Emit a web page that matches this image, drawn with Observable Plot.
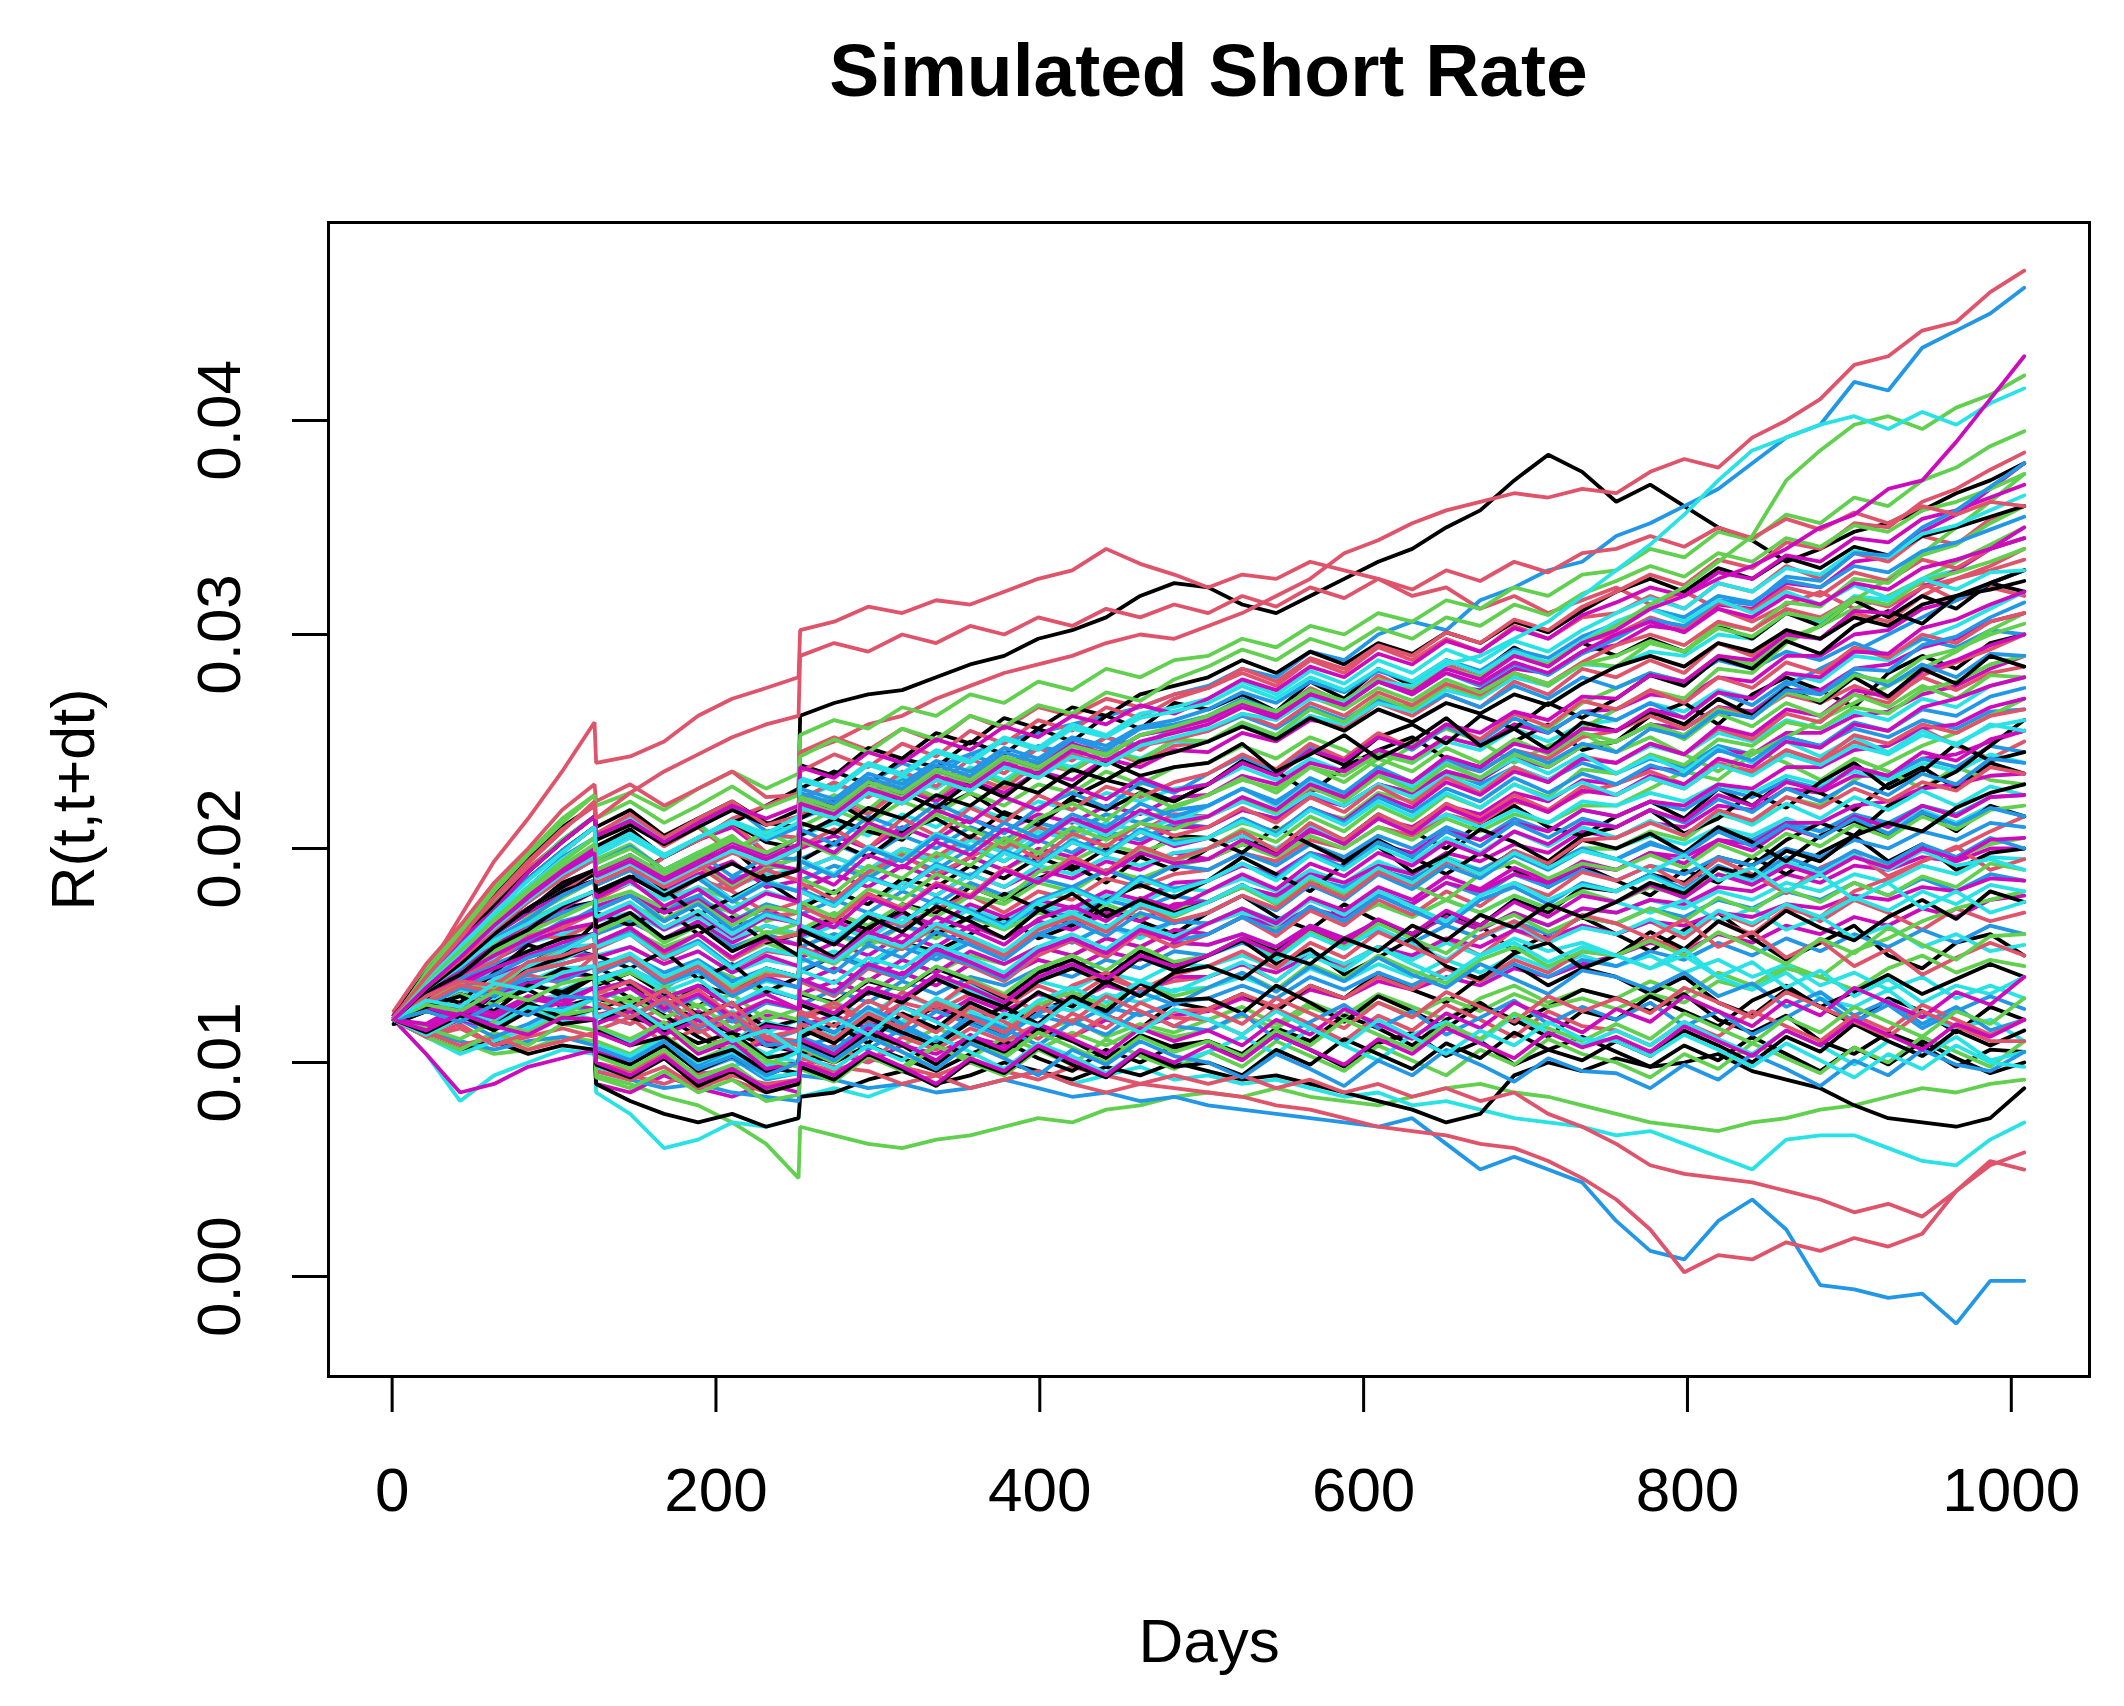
<!DOCTYPE html>
<html><head><meta charset="utf-8">
<script src="https://cdn.jsdelivr.net/npm/d3@7"></script>
<script src="https://cdn.jsdelivr.net/npm/@observablehq/plot@0.6"></script>
<style>
body{margin:0;background:#fff;font-family:"Liberation Sans",Arial,sans-serif;}
#wrap{position:relative;width:2124px;height:1706px;overflow:hidden;}
#title{position:absolute;left:328px;width:1761px;top:0;height:140px;line-height:140px;text-align:center;font-weight:bold;font-size:75px;color:#000;}
#chart{position:absolute;left:0;top:140px;}
</style></head><body>
<div id="wrap"><div id="title">Simulated Short Rate</div><div id="chart"></div></div>
<script>
// Sample days (x) shared by every simulated path
const days = [1,21,42,63,84,105,125,126,147,168,189,210,231,251,252,273,294,315,336,357,378,399,420,441,462,483,504,525,546,567,588,609,630,651,672,693,714,735,756,777,798,819,840,861,882,903,924,945,966,987,1008];
const xTicks = [0,200,400,600,800,1000];
const yTicks = [0,0.01,0.02,0.03,0.04];
const palette = ["#000000","#DF536B","#61D04F","#2297E6","#28E2E5","#CD0BBC"];
// Short-rate values, in units of 0.0001
const blackPaths = [
 [120,134,150,162,172,180,188, 178,186,196,204,212,220,228, 262,268,272,274,280,286,290,298,302,308,318,324, 322,314,310,318,326,334,340,350,358,372,384,376,362, 370,360,350,344,334,340,348,352,358,366,372,380],
 [120,112,106,110,104,108,106, 90,82,76,72,76,70,74, 84,86,92,96,90,94,100,96,92,98,94,100, 96,92,94,90,86,82,78,72,76,94,100,96,102, 98,100,104,96,92,88,80,74,72,70,74,88],
 [120,136,150,166,180,188,200, 188,196,184,194,200,186,190, 206,214,208,204,218,226,216,212,224,232,228,222, 230,240,236,226,238,246,252,242,238,250,258,246,250, 262,268,258,272,280,274,266,282,290,284,296,300],
 [120,128,140,134,146,154,150, 136,142,132,126,138,134,130, 142,150,146,156,152,160,168,158,164,172,166,160, 170,178,168,162,174,166,158,170,164,152,160,168,160, 152,162,170,158,148,156,164,150,144,156,160,150],
 [120,132,146,158,164,172,175, 145,136,128,120,114,108,105, 120,114,122,118,126,120,112,124,130,122,116,128, 125,132,124,136,130,142,134,128,140,146,136,144,140, 132,140,128,122,134,126,118,130,124,114,126,120],
 [118,124,120,128,134,126,130, 125,130,126,136,132,144,140, 160,168,162,174,170,182,176,186,192,184,196,190, 200,206,198,210,204,216,208,200,212,220,210,206,215, 222,214,228,220,232,226,218,230,238,228,240,235],
 [122,142,160,178,196,210,220, 210,218,206,214,222,212,210, 228,236,230,242,238,250,244,256,250,262,256,268, 265,272,264,278,270,284,276,288,282,294,286,296,290, 298,292,304,298,310,304,316,308,318,312,324,320],
 [120,126,136,144,152,158,160, 140,130,122,112,104,98,95, 105,100,108,102,96,104,110,102,96,106,100,108, 110,104,116,110,122,116,108,120,128,118,126,134,130, 124,132,120,114,122,110,104,114,108,98,106,105],
 [120,134,150,160,172,180,185, 170,164,172,160,168,156,160, 172,180,174,186,182,192,186,196,190,200,196,206, 205,198,210,202,194,204,196,188,198,190,182,192,185, 178,190,184,196,188,198,206,194,202,190,198,200],
 [120,124,132,128,136,144,140, 130,126,134,122,128,116,120, 132,128,138,134,144,138,130,142,148,140,152,146, 150,158,152,162,156,166,160,170,164,176,170,182,180, 188,184,196,192,204,212,206,220,228,236,248,260],
 [120,131,128,142,155,150,165, 150,144,152,139,146,133,140, 158,149,163,171,160,168,179,172,164,176,183,177, 185,196,188,180,193,201,189,197,209,203,194,206,210, 218,207,214,226,219,231,240,228,236,249,241,245],
 [120,138,149,166,171,184,190, 178,186,181,169,177,185,175, 194,203,196,208,214,205,217,211,223,218,226,222, 230,241,235,246,239,252,258,249,262,256,268,261,270, 281,276,289,284,297,291,304,311,305,318,324,330],
 [120,126,119,132,138,131,140, 118,126,114,121,109,118,115, 127,121,133,128,139,132,126,138,144,137,149,143, 150,157,146,153,141,149,158,145,139,151,156,144,150, 161,153,166,159,171,163,157,168,176,167,180,175],
 [122,139,157,170,186,199,210, 201,209,196,205,212,203,200, 214,222,213,226,219,231,224,236,229,241,234,238, 240,249,236,244,253,242,250,261,248,256,246,259,255, 264,258,270,262,275,268,280,271,284,277,290,285],
 [120,129,136,131,144,149,155, 128,121,117,109,114,102,105, 116,109,121,114,108,119,126,118,131,124,137,129, 130,123,136,128,119,131,124,116,127,120,112,124,120, 131,124,117,129,136,126,133,141,132,139,146,140],
 [120,133,141,154,162,173,180, 163,170,158,164,152,159,150, 162,155,168,161,173,166,158,171,179,168,176,170, 175,183,174,186,179,191,184,195,188,199,192,204,200, 207,198,210,203,194,206,213,205,217,208,220,215],
 [120,114,123,117,128,121,125, 104,99,108,96,103,94,100, 112,118,109,123,116,128,121,133,126,138,131,142, 145,139,151,146,158,152,164,157,169,163,174,168,175, 184,179,191,187,199,194,206,212,208,219,226,230],
 [120,126,131,124,136,133,140, 115,108,112,101,106,96,100, 109,103,114,108,99,111,105,116,110,102,113,107, 110,102,113,106,98,109,114,103,110,99,106,112,105, 98,108,101,112,104,96,107,99,110,102,95,100],
 [120,114,122,115,124,118,120, 99,93,102,89,96,86,90, 98,92,104,97,89,101,95,107,99,93,105,98, 100,94,106,99,111,104,97,109,102,114,106,101,110, 103,115,108,100,112,105,118,110,103,115,108,115],
 [121,140,157,173,189,203,215, 204,211,202,210,218,211,218, 239,234,247,242,254,249,261,256,266,262,272,276, 280,288,282,292,286,296,291,301,296,306,301,311,320, 326,320,331,326,336,331,341,337,346,350,355,360],
 [120,134,146,160,172,182,190, 180,187,178,186,193,185,190, 212,207,219,214,225,220,231,226,237,232,241,245, 250,257,251,261,255,265,259,268,263,272,267,277,285, 290,285,296,292,302,298,308,304,314,318,321,325]
];
const redPaths = [
 [120,142,168,194,214,236,259, 240,243,250,262,270,275,280, 302,306,313,310,316,314,320,326,330,340,333,328, 322,328,326,334,330,326,318,322,312,318,310,316,322, 314,320,312,306,314,320,312,318,324,316,322,318],
 [120,132,150,160,172,180,190, 176,184,196,204,214,220,226, 244,250,258,262,270,276,282,286,290,296,300,298, 304,310,318,326,338,344,352,358,362,366,364,368,366, 376,382,378,392,400,410,426,430,442,446,460,470],
 [120,112,116,108,112,116,112, 96,92,98,88,94,90,92, 102,98,96,90,94,88,92,96,90,86,90,88, 86,84,80,78,74,70,68,66,62,60,54,46,36, 22,2,10,8,16,12,18,14,20,40,52,58],
 [120,114,108,112,106,110,114, 98,94,90,96,92,86,90, 100,96,102,98,94,100,96,92,98,94,90,94, 90,94,88,92,86,90,84,88,82,86,76,70,62, 52,48,46,44,40,36,30,34,28,40,54,50],
 [120,140,156,172,186,198,210, 200,208,196,204,212,198,200, 215,222,216,228,224,234,228,240,236,246,240,248, 250,258,252,262,256,268,262,272,266,278,272,284,280, 288,282,296,290,302,298,310,306,318,326,332,340],
 [120,130,144,150,160,158,165, 153,160,148,156,144,152,150, 164,158,168,164,172,178,170,180,176,186,182,188, 190,198,194,204,200,210,206,216,212,222,218,226,230, 236,230,240,236,246,240,250,244,256,248,242,250],
 [120,116,128,124,136,140,145, 123,118,126,114,120,108,110, 120,126,118,128,124,132,126,136,130,140,134,138, 140,146,138,150,144,154,148,158,150,162,156,164,160, 166,158,170,164,174,166,176,170,162,172,166,170],
 [124,146,164,184,200,218,230, 222,230,220,228,236,224,225, 245,252,246,256,250,262,256,266,262,270,266,272, 275,282,276,288,282,294,288,298,292,304,298,308,310, 318,312,324,320,332,326,338,334,346,342,354,360],
 [120,112,118,108,114,122,120, 100,96,104,94,98,88,90, 102,108,100,112,106,116,110,118,112,122,116,124, 125,132,126,136,130,140,134,144,138,148,142,152,150, 158,152,166,160,172,168,180,186,194,200,208,215],
 [120,134,148,162,172,182,190, 178,184,176,186,180,170,175, 190,196,190,200,196,206,200,210,204,212,208,216, 215,222,218,228,224,234,230,240,236,246,242,252,255, 262,256,266,262,272,268,276,270,280,274,282,285],
 [120,131,146,152,165,172,180, 166,174,163,171,160,168,170, 184,176,189,197,188,196,204,195,207,201,212,206, 210,219,212,224,217,229,221,233,226,238,231,243,240, 249,244,256,251,263,259,272,268,281,287,293,300],
 [120,127,121,134,141,137,150, 132,138,127,134,122,129,125, 138,131,144,139,151,145,138,150,157,149,161,154, 160,168,159,171,164,176,169,180,173,184,178,189,185, 192,183,195,188,179,191,198,187,194,201,190,195],
 [120,137,152,163,178,191,200, 189,196,184,192,181,190,185, 201,209,200,214,206,219,212,225,218,229,224,231, 235,244,237,249,242,254,247,258,251,263,257,269,265, 274,268,280,275,287,282,294,289,300,296,306,310],
 [120,117,126,122,131,128,135, 115,121,109,116,104,112,110, 121,128,119,133,126,138,131,124,136,142,134,141, 145,152,144,156,149,161,154,147,159,166,157,169,165, 158,167,154,161,149,157,145,153,141,149,156,150],
 [120,128,141,147,159,163,170, 156,163,151,160,148,157,160, 173,166,179,172,184,178,191,184,196,189,201,195, 200,208,199,212,204,216,209,221,214,225,218,229,225, 233,228,239,235,246,241,253,249,258,254,262,265],
 [121,140,158,174,191,203,215, 204,213,201,210,198,207,205, 223,231,224,236,229,242,235,247,241,252,246,256, 260,269,263,275,268,281,274,286,280,292,286,297,300, 308,303,315,311,322,318,329,325,335,331,340,345],
 [120,129,124,138,146,152,160, 143,149,138,145,133,141,140, 154,147,159,153,164,157,150,162,168,161,173,166, 170,178,172,184,177,189,183,194,188,199,193,204,205, 212,206,218,213,224,219,228,222,231,227,238,235],
 [120,131,138,136,147,150,155, 131,125,134,121,128,112,115, 124,117,129,122,114,126,119,111,123,116,128,121, 120,113,125,118,110,122,115,127,120,112,124,117,115, 108,119,112,124,117,110,122,115,127,120,113,120],
 [120,128,136,133,143,146,150, 128,121,130,117,123,111,108, 118,111,123,116,128,121,114,126,119,131,124,117, 125,118,130,123,116,128,121,133,126,119,131,124,130, 123,135,128,121,133,126,119,112,124,117,110,110],
 [121,141,160,177,194,209,220, 207,216,205,214,222,211,215, 236,244,238,249,243,255,249,260,255,266,261,270, 275,284,278,289,284,295,290,301,296,307,302,313,320, 328,323,335,331,343,340,352,350,362,368,377,385],
 [120,135,148,162,175,186,195, 184,191,182,190,198,192,200, 219,214,226,221,232,227,238,233,244,239,248,251, 255,263,257,268,262,273,267,277,272,282,277,287,295, 300,295,306,302,312,308,317,313,322,326,330,335],
 [121,140,158,177,193,208,222, 214,226,236,244,252,258,262, 290,296,292,300,296,304,300,308,304,312,308,314, 310,318,313,322,317,326,321,330,325,334,329,338,340, 346,341,350,345,354,349,357,352,360,356,362,360]
];
const greenPaths = [
 [120,116,110,104,106,112,110, 94,90,84,80,72,62,46, 70,66,62,60,64,66,70,74,72,78,80,84, 86,84,88,84,82,80,84,88,90,86,84,80,76, 72,70,68,72,74,78,80,84,88,86,90,92],
 [122,144,162,182,198,214,225, 220,226,218,228,236,228,235, 253,260,256,266,262,272,268,278,274,284,280,288, 290,298,294,304,300,310,306,316,312,322,318,328,330, 340,336,348,344,356,352,364,360,372,378,388,395],
 [120,134,146,160,170,182,190, 175,180,172,182,176,166,170, 185,192,188,198,194,204,200,210,206,216,212,220, 225,232,228,238,234,244,240,252,248,258,256,268,275, 282,278,290,286,298,304,312,318,326,334,342,350],
 [120,128,138,134,144,150,155, 137,142,134,146,140,132,140, 154,160,154,164,158,168,162,170,166,174,168,172, 175,182,176,186,180,190,184,194,188,198,192,200,200, 208,204,216,212,224,220,232,240,248,254,262,270],
 [120,114,122,118,128,132,135, 115,110,118,106,112,98,100, 110,104,112,108,116,110,104,114,120,112,118,114, 120,126,118,128,122,132,126,120,130,136,128,134,130, 138,132,142,136,146,140,134,144,150,142,148,145],
 [122,140,154,168,182,194,205, 195,202,190,198,206,192,195, 210,218,212,222,216,226,220,230,226,236,230,238, 240,248,242,252,246,238,248,256,250,240,248,254,245, 252,244,236,246,240,232,242,236,228,238,232,230],
 [120,132,142,150,160,164,170, 156,162,154,160,148,156,150, 162,170,164,174,168,178,174,184,180,190,186,192, 195,202,196,206,200,210,204,214,208,216,212,220,220, 228,236,232,244,252,260,268,276,284,292,302,310],
 [120,112,106,114,108,118,115, 93,88,96,86,92,82,85, 99,94,104,98,108,102,112,106,114,108,116,112, 115,122,116,126,120,128,122,130,124,132,126,130,125, 132,128,138,134,144,140,152,158,166,172,176,180],
 [120,136,146,158,166,174,180, 168,174,166,176,170,160,165, 181,188,182,192,186,196,190,198,194,202,198,204, 205,212,208,218,214,226,222,234,232,244,242,256,265, 274,270,284,282,296,304,316,326,338,350,362,375],
 [120,126,136,132,142,146,150, 134,128,136,126,132,120,125, 137,144,138,148,142,150,146,154,150,158,154,162, 160,168,162,172,166,174,168,176,170,178,172,180,175, 182,178,188,184,192,188,196,192,200,196,202,205],
 [120,133,140,152,161,168,175, 161,168,156,164,152,161,160, 175,168,181,176,188,182,176,189,195,188,199,194, 200,209,203,215,208,220,213,225,219,230,224,237,235, 244,239,251,248,259,256,266,263,274,278,286,290],
 [120,124,132,127,138,141,145, 126,131,121,127,116,124,120, 133,127,139,134,145,139,132,144,150,143,154,147, 150,158,149,161,154,165,158,151,163,169,161,168,165, 172,166,177,171,181,175,184,178,187,182,193,190],
 [122,137,151,167,178,192,200, 188,196,185,194,183,192,190, 204,197,210,205,216,209,202,214,221,213,226,219, 225,233,226,238,231,242,236,247,240,251,244,254,250, 258,251,263,257,268,262,272,266,276,270,281,280],
 [120,113,121,117,126,122,130, 110,104,113,101,108,99,105, 117,111,123,118,129,122,116,127,133,126,137,131, 135,142,134,146,139,150,143,137,148,154,145,152,150, 157,150,161,154,146,158,151,163,155,148,159,160],
 [120,134,147,156,168,177,185, 171,178,167,175,164,173,170, 186,179,192,186,198,192,205,198,210,204,212,209, 215,224,217,229,222,234,227,239,233,244,238,248,250, 258,253,265,261,273,269,281,278,289,293,300,305],
 [120,128,137,135,146,153,160, 144,150,139,146,135,143,140, 152,146,158,153,164,158,151,163,169,162,173,168, 175,182,174,186,179,190,183,176,188,194,186,193,190, 197,191,202,196,207,201,211,205,215,209,218,220],
 [121,139,156,173,189,204,215, 205,213,202,211,199,208,200, 217,225,218,231,224,237,230,242,236,247,241,251, 250,259,253,265,259,271,265,276,271,282,276,287,285, 296,292,305,302,315,313,326,324,337,342,352,360],
 [120,116,111,119,114,122,125, 103,97,106,93,99,88,90, 97,91,103,96,108,100,94,106,99,111,103,97, 105,98,110,103,96,108,101,94,106,99,111,104,100, 93,104,97,109,102,95,107,100,112,105,98,110],
 [120,127,124,133,129,137,140, 117,111,119,106,112,101,98, 107,100,112,105,97,109,102,114,107,100,112,105, 110,103,115,108,120,113,106,118,111,123,116,110,118, 111,123,116,109,121,114,126,119,112,124,118,130],
 [120,142,161,180,197,212,225, 214,222,212,220,229,219,225, 243,251,245,256,251,262,257,267,263,273,269,279, 285,293,288,298,293,303,298,308,304,314,309,319,325, 332,327,338,334,345,341,351,348,358,362,368,375],
 [120,137,151,167,181,194,205, 193,200,190,198,205,196,200, 222,217,229,224,236,231,242,237,248,243,253,256, 260,267,261,271,265,275,269,279,273,282,277,286,290, 297,292,303,299,310,307,317,314,325,329,334,340],
 [120,137,152,166,180,192,202, 190,197,188,196,204,198,205, 224,219,231,226,237,232,243,238,248,244,253,257, 262,269,264,274,269,279,274,284,280,290,286,296,304, 314,322,334,346,372,386,398,402,396,406,412,421]
];
const bluePaths = [
 [120,128,140,150,158,164,172, 160,166,172,178,186,190,196, 214,220,226,232,238,244,250,254,258,262,266,272, 276,284,280,292,288,300,306,302,316,322,330,334,346, 352,360,368,380,392,398,418,414,434,442,450,462],
 [120,114,110,106,110,112,108, 96,92,88,90,86,84,82, 94,92,88,90,86,88,92,88,84,86,82,84, 80,78,76,74,72,70,74,62,50,56,50,44,26, 12,8,26,36,22,-4,-6,-10,-8,-22,-2,-2],
 [120,136,150,162,176,186,195, 183,190,180,188,176,184,180, 195,202,196,206,200,210,204,212,208,216,212,218, 220,228,222,232,226,234,228,236,230,238,232,240,235, 242,238,248,244,252,248,256,252,260,256,264,265],
 [120,130,138,146,152,158,160, 146,150,142,148,138,144,140, 154,160,156,164,160,168,164,172,168,176,172,178, 175,182,178,186,182,190,186,194,190,198,192,200,195, 202,198,208,204,212,208,216,212,220,216,224,225],
 [118,124,132,128,136,142,140, 122,118,126,114,120,110,115, 127,134,128,138,132,140,136,144,140,148,144,152, 150,156,150,160,154,162,156,164,158,166,160,168,165, 172,168,176,172,180,176,184,178,186,180,188,185],
 [122,142,160,176,190,204,215, 207,214,204,212,220,208,210, 228,236,230,240,234,244,238,248,244,252,248,256, 255,262,256,266,260,270,264,272,266,276,270,280,275, 282,278,288,284,292,288,296,290,298,294,302,300],
 [120,134,146,154,164,170,175, 161,166,158,164,154,160,155, 169,176,170,180,174,184,178,186,182,190,184,192, 190,198,192,202,196,206,200,210,204,214,208,218,215, 222,218,228,224,232,228,238,234,242,238,248,245],
 [120,114,120,112,118,126,125, 105,100,108,96,102,92,95, 107,112,106,116,110,120,114,122,118,126,122,128, 130,136,130,140,134,142,136,144,138,146,140,148,145, 152,148,156,150,158,152,160,154,162,156,164,160],
 [120,134,148,160,170,178,185, 173,178,170,178,166,174,170, 185,192,186,196,190,200,194,204,198,208,204,212, 210,218,214,224,220,230,226,236,232,242,238,248,250, 258,256,266,264,276,284,292,300,308,316,324,330],
 [120,128,136,140,146,152,150, 134,138,130,136,126,134,130, 143,150,144,154,148,156,150,160,156,164,160,166, 165,172,166,176,170,180,174,184,178,188,182,190,185, 192,188,196,192,200,196,204,200,208,204,212,210],
 [120,131,139,148,157,166,170, 155,161,150,157,145,153,150, 164,157,170,165,177,171,164,176,182,175,187,181, 185,193,186,198,191,203,196,208,201,212,205,214,210, 218,212,223,217,228,222,231,225,235,230,242,240],
 [121,138,153,168,182,196,205, 193,201,190,198,187,196,195, 209,202,215,209,221,214,207,219,226,219,231,226, 235,243,236,248,241,253,246,257,250,261,254,264,260, 268,261,273,267,278,272,282,276,286,280,291,290],
 [120,127,122,133,139,138,145, 129,135,124,131,119,128,125, 139,132,145,139,151,146,139,152,158,151,163,157, 160,168,161,173,166,178,171,164,176,182,174,184,180, 188,181,192,186,196,190,199,193,202,196,205,200],
 [120,114,123,118,127,124,130, 107,102,111,99,105,96,100, 112,106,118,113,124,118,112,123,129,122,133,127, 135,142,133,145,138,149,141,135,146,139,132,143,140, 134,142,131,137,126,133,122,129,118,126,115,120],
 [120,136,144,158,167,178,185, 171,178,166,174,162,170,165, 181,174,187,181,193,187,199,193,204,198,209,203, 205,214,207,219,212,224,217,228,222,233,226,235,230, 239,234,246,241,252,248,259,255,265,262,271,275],
 [120,126,135,141,149,154,160, 142,148,137,143,131,139,135, 149,142,155,149,161,155,148,160,166,159,170,165, 170,178,171,183,176,188,181,192,186,197,190,199,195, 203,197,208,201,211,205,214,207,217,211,219,215],
 [120,136,149,163,176,187,195, 183,190,178,186,175,184,180, 194,187,200,194,206,200,212,205,216,210,221,215, 220,228,221,233,226,238,231,242,236,246,240,249,245, 256,252,264,261,274,272,284,283,295,299,308,315],
 [120,128,135,131,142,146,150, 127,121,129,116,123,108,110, 121,114,126,118,110,122,116,108,119,113,124,117, 115,123,111,119,127,116,124,113,121,129,118,126,120, 128,117,124,113,121,130,119,127,116,124,131,125],
 [120,124,119,127,122,131,130, 107,101,110,97,103,94,100, 108,101,112,105,97,109,102,94,106,99,110,103, 100,93,104,97,89,101,94,106,99,91,102,96,95, 88,99,92,104,97,89,101,94,106,99,96,105],
 [121,139,155,171,186,199,210, 199,207,197,205,213,204,210, 228,223,235,230,241,236,247,242,252,248,257,260, 265,273,268,278,273,283,278,288,283,293,289,299,305, 312,308,318,315,325,322,332,329,339,343,349,355],
 [120,136,150,165,178,190,200, 190,197,188,196,203,197,205, 226,221,233,228,239,234,245,240,251,246,256,258, 262,270,264,274,268,278,272,282,276,286,281,291,298, 307,304,316,314,327,325,338,337,350,358,369,380]
];
const cyanPaths = [
 [120,104,82,94,100,106,104, 86,76,60,64,72,70,74, 84,88,84,90,94,88,92,96,90,94,98,92, 94,90,92,88,84,86,80,82,78,74,72,70,66, 68,62,56,50,64,66,66,60,54,52,64,72],
 [120,138,152,166,180,192,200, 190,196,186,194,182,188,190, 206,212,206,216,210,220,214,222,218,226,222,228, 230,238,232,242,236,246,240,250,246,256,250,258,260, 268,264,274,270,282,278,290,288,298,304,312,320],
 [120,130,140,148,156,160,165, 150,154,146,152,142,148,145, 158,164,158,168,162,172,166,174,170,178,174,182, 180,186,180,190,184,194,188,196,190,198,192,200,200, 206,202,210,206,214,208,216,210,218,212,220,215],
 [118,126,134,130,138,144,145, 127,122,130,118,124,114,120, 132,138,132,142,136,146,140,148,144,152,148,156, 155,160,154,164,158,166,160,168,162,170,164,172,170, 176,172,180,176,184,180,188,184,192,188,196,195],
 [120,112,104,110,116,124,120, 98,94,102,92,98,104,100, 112,118,112,122,116,126,120,128,124,132,128,134, 135,140,134,144,138,146,140,148,142,150,144,150,145, 150,142,148,140,146,136,142,134,140,130,136,130],
 [120,142,160,176,190,204,215, 207,214,204,212,198,206,205, 223,230,224,234,228,238,232,242,238,246,242,250, 250,258,252,262,258,268,264,274,270,280,276,286,285, 292,290,300,298,310,306,318,316,326,330,340,345],
 [120,134,146,158,166,174,180, 166,170,162,168,158,164,160, 174,180,174,184,178,188,182,192,188,196,192,198, 200,206,200,210,204,214,208,216,210,218,212,222,220, 226,222,230,226,234,230,236,232,240,236,244,240],
 [120,128,136,142,150,154,155, 139,144,136,142,132,138,135, 147,152,146,156,150,158,152,160,156,164,158,166, 165,170,164,172,166,174,168,176,170,178,172,180,175, 170,176,166,172,162,168,158,164,154,160,152,155],
 [120,116,124,120,128,132,135, 115,110,118,106,112,104,110, 122,128,122,132,126,136,130,138,134,142,138,146, 145,150,144,152,146,154,148,156,150,158,152,156,150, 144,150,140,134,142,130,126,134,122,116,120,110],
 [120,136,148,160,172,182,190, 178,184,176,182,172,180,175, 190,196,190,200,194,204,198,208,204,212,208,214, 215,222,216,226,220,230,224,234,228,238,232,242,240, 248,244,254,250,260,256,264,260,270,266,276,280],
 [120,132,141,149,159,163,170, 154,160,149,156,144,153,150, 164,158,170,165,176,170,163,175,181,174,186,180, 185,193,185,197,190,201,194,205,198,208,201,210,205, 213,206,217,211,221,214,224,218,227,220,229,225],
 [120,127,121,131,136,134,140, 121,126,115,122,110,119,115, 128,122,134,129,140,134,127,139,145,138,149,143, 150,157,148,160,153,163,155,148,159,165,156,163,160, 167,160,171,165,174,168,177,171,180,174,183,180],
 [120,137,150,163,175,186,195, 183,190,179,187,176,185,180, 195,188,201,195,207,201,194,206,213,206,217,212, 220,228,220,232,225,236,229,240,233,242,235,244,235, 243,236,247,240,250,243,252,245,255,248,258,255],
 [120,128,124,137,143,148,155, 138,144,133,139,127,135,130, 143,137,149,144,155,149,142,154,160,153,164,159, 165,172,164,176,169,180,173,166,178,184,176,183,180, 187,180,191,184,194,188,197,190,199,192,195,190],
 [120,113,121,116,125,119,125, 108,103,112,100,107,98,105, 118,112,124,119,130,124,117,129,135,128,138,133, 140,147,138,150,143,154,146,139,150,156,147,154,150, 144,153,140,147,135,143,131,139,128,136,132,140],
 [120,134,145,157,165,174,180, 168,175,163,171,160,169,165, 180,173,186,181,192,186,198,192,203,197,208,202, 205,213,206,218,211,222,215,226,219,230,223,231,225, 233,228,239,234,244,239,248,244,253,249,257,260],
 [120,129,126,139,145,152,160, 145,151,140,147,136,144,140, 153,147,159,154,165,159,152,164,170,163,174,169, 175,183,175,187,180,191,184,195,188,198,191,199,195, 189,197,185,191,180,188,176,184,172,180,170,175],
 [120,113,121,117,126,124,130, 108,101,110,97,104,93,95, 104,97,108,101,112,105,97,109,103,95,106,100, 105,112,104,116,108,101,113,119,110,122,114,108,115, 108,119,111,104,115,108,99,110,103,112,101,105],
 [120,129,126,137,134,142,145, 121,127,116,122,110,115,105, 114,121,113,126,119,111,123,117,129,121,114,125, 120,113,124,116,108,120,112,104,115,108,119,111,110, 103,113,106,98,109,101,93,104,97,108,100,98],
 [120,137,152,168,182,195,205, 197,205,196,205,213,207,215, 233,228,240,235,246,241,252,247,258,253,263,266, 270,278,272,283,277,288,282,293,287,297,292,302,310, 317,312,324,320,331,328,339,336,347,351,358,365],
 [121,138,154,170,185,198,210, 199,207,197,205,212,205,212, 232,227,239,234,245,240,251,246,256,252,261,264, 268,276,270,280,274,284,278,288,282,292,287,297,306, 312,306,316,310,320,314,323,317,326,321,329,330],
 [120,136,150,163,176,188,196, 186,193,184,192,199,193,200, 219,214,226,221,232,227,238,233,243,239,248,252, 256,263,260,270,268,278,276,286,290,298,306,318,330, 342,356,372,386,392,398,402,396,404,398,408,415]
];
const magentaPaths = [
 [120,104,86,90,98,102,106, 90,86,94,88,84,90,86, 98,104,100,108,104,112,108,116,112,120,116,122, 124,130,126,134,130,138,134,140,136,144,140,146,150, 156,152,160,156,164,160,168,164,172,168,176,178],
 [120,140,156,172,186,198,210, 200,206,196,204,210,198,200, 216,224,218,228,222,232,226,236,232,242,238,246, 245,254,250,260,258,268,266,276,274,284,282,292,295, 304,302,314,312,324,322,334,336,348,356,368,380],
 [120,132,144,154,162,170,175, 161,166,158,166,156,164,160, 174,180,174,184,178,188,182,190,186,194,190,198, 195,202,198,208,204,214,210,220,216,226,222,232,230, 238,236,246,244,254,254,262,264,272,276,284,290],
 [120,128,138,144,150,152,155, 139,144,136,142,132,140,135, 149,156,150,160,154,164,158,166,162,170,166,174, 175,182,178,188,184,192,188,198,194,202,198,208,205, 212,210,220,218,228,226,234,234,242,244,250,255],
 [118,124,132,128,136,142,140, 122,126,118,124,114,122,120, 132,138,132,142,136,146,140,148,144,152,148,156, 155,160,154,164,158,166,160,168,162,170,164,172,170, 176,174,182,180,188,184,192,190,196,194,200,200],
 [120,136,150,164,176,186,195, 183,190,180,188,194,182,185, 200,206,200,210,204,214,208,216,212,220,216,224, 225,234,230,240,236,246,242,252,248,258,254,264,265, 272,270,280,278,290,290,300,302,312,316,324,330],
 [120,130,142,148,156,162,165, 149,154,146,152,142,150,145, 159,166,160,170,164,174,168,176,172,180,176,184, 185,192,188,198,194,202,198,208,204,212,208,218,215, 222,220,230,228,238,238,246,248,256,258,266,270],
 [120,114,120,116,124,128,125, 105,100,108,98,104,110,105, 117,122,116,126,120,130,124,132,128,136,132,140, 140,146,142,150,146,154,150,158,154,162,158,164,160, 166,164,170,168,174,172,178,176,182,180,186,185],
 [120,134,148,160,170,178,185, 173,178,170,176,166,172,165, 180,188,182,192,186,196,190,200,196,206,202,210, 210,218,214,224,220,230,226,236,232,242,238,248,250, 258,256,266,264,274,274,284,286,294,298,306,310],
 [120,128,136,140,146,150,150, 134,138,130,136,126,132,125, 137,144,138,148,142,152,146,154,150,158,154,162, 160,168,164,172,168,178,174,184,180,188,184,192,190, 198,196,204,202,212,212,220,222,228,230,234,235],
 [120,133,144,155,165,172,180, 166,173,162,170,159,168,165, 180,173,186,181,192,186,198,192,203,197,208,201, 205,214,207,219,213,225,219,231,225,236,231,242,240, 249,244,257,253,265,262,274,271,283,288,295,300],
 [120,128,136,144,150,156,160, 144,150,139,146,135,143,140, 154,148,161,156,168,162,155,167,173,166,177,172, 180,188,181,193,187,198,192,203,197,208,202,212,210, 218,213,225,220,231,227,238,234,245,241,251,255],
 [122,138,152,166,179,192,200, 189,197,186,195,184,193,190, 205,198,212,206,218,212,224,218,229,223,233,227, 230,240,234,246,241,252,247,258,254,264,260,271,270, 281,278,290,288,300,298,311,310,322,330,340,350],
 [120,126,121,132,137,140,145, 130,135,125,132,121,129,125, 139,133,146,141,153,147,140,152,158,151,162,157, 165,172,165,177,171,182,176,187,181,191,185,194,190, 198,193,204,199,210,205,215,210,220,215,224,225],
 [120,131,141,150,158,165,170, 156,163,152,160,149,158,155, 170,163,177,171,183,177,190,184,194,188,198,193, 195,204,197,209,202,214,207,219,213,223,217,227,225, 234,230,242,238,250,247,258,255,266,270,276,280],
 [120,116,125,121,130,127,135, 118,124,113,120,109,117,115, 129,123,135,130,141,135,128,140,146,139,150,145, 150,158,151,163,156,167,160,171,164,175,168,178,175, 183,177,188,183,192,187,196,191,200,195,204,205],
 [121,136,148,161,172,182,190, 177,185,173,181,170,179,175, 190,183,197,191,203,197,209,203,214,208,218,212, 215,224,218,230,224,236,231,243,238,249,245,256,255, 265,261,273,270,282,280,292,291,303,307,314,320],
 [120,118,127,123,131,129,135, 114,108,117,104,110,97,100, 111,104,116,109,101,113,106,118,111,104,116,110, 115,108,120,113,125,118,111,123,116,128,121,114,125, 119,131,124,117,129,122,135,128,121,133,127,140],
 [120,115,123,117,113,121,120, 100,94,103,91,97,88,92, 100,94,105,98,90,102,96,108,101,94,106,100, 108,101,113,106,99,111,104,116,109,102,114,107,112, 105,117,110,103,115,108,120,113,106,118,112,120],
 [122,138,157,171,189,203,215, 206,213,203,212,220,214,220, 238,233,245,240,251,246,257,252,262,258,267,263, 270,279,274,285,280,291,286,297,292,303,298,309,315, 322,318,329,326,337,334,345,343,354,358,364,370],
 [120,136,150,165,178,190,200, 189,196,187,195,203,197,205, 224,219,231,226,237,232,243,238,249,244,253,256, 260,268,262,273,267,278,272,282,277,287,282,292,300, 306,301,312,308,318,314,324,321,331,335,340,345],
 [120,135,149,164,177,189,198, 187,194,185,193,201,195,202, 221,216,228,223,234,229,240,235,246,241,250,254, 258,266,261,272,267,278,273,284,279,290,285,296,302, 312,318,326,332,340,350,356,368,372,390,410,430]
];

const groups = [blackPaths, redPaths, greenPaths, bluePaths, cyanPaths, magentaPaths];
const rows = [];
const nMax = Math.max(...groups.map(g => g.length));
for (let i = 0; i < nMax; i++) {
  groups.forEach((g, c) => {
    const p = g[i];
    if (!p) return;
    if (p.length !== days.length) throw new Error(`path ${c}/${i} has ${p.length} values`);
    p.forEach((v, j) => rows.push({id: `${c}-${i}`, day: days[j], r: v / 10000, color: palette[c]}));
  });
}

const font = '"Liberation Sans", Arial, sans-serif';
const chart = Plot.plot({
  width: 2124,
  height: 1566,
  marginLeft: 328,
  marginRight: 35,
  marginTop: 82,
  marginBottom: 330,
  x: {domain: [-39.3, 1048.3], axis: null},
  y: {domain: [-0.00467, 0.04925], axis: null},
  color: {type: "identity"},
  style: {fontFamily: font, background: "white", color: "black", overflow: "visible"},
  marks: [
    Plot.line(rows, {x: "day", y: "r", z: "id", stroke: "color", strokeWidth: 3.8, strokeLinejoin: "miter", clip: true}),
    Plot.frame({stroke: "black", strokeWidth: 3}),
    Plot.axisX({ticks: xTicks, tickSize: 36, tickPadding: 54, strokeWidth: 3, fontSize: 62, tickFormat: d => String(d), label: null, fill: "black"}),
    Plot.axisY({ticks: yTicks, tickSize: 36, strokeWidth: 3, tickFormat: () => "", label: null}),
    Plot.text(yTicks, {y: d => d, text: d => d.toFixed(2), frameAnchor: "left", dx: -89, rotate: -90, lineAnchor: "bottom", textAnchor: "middle", fontSize: 62, fill: "black"}),
    Plot.text(["Days"], {text: d => d, frameAnchor: "bottom", dy: 285, lineAnchor: "bottom", textAnchor: "middle", fontSize: 62, fill: "black"}),
    Plot.text(["R(t,t+dt)"], {text: d => d, frameAnchor: "left", dx: -235, rotate: -90, lineAnchor: "bottom", textAnchor: "middle", fontSize: 61, fill: "black"})
  ]
});
document.getElementById("chart").appendChild(chart);
</script>
</body></html>
